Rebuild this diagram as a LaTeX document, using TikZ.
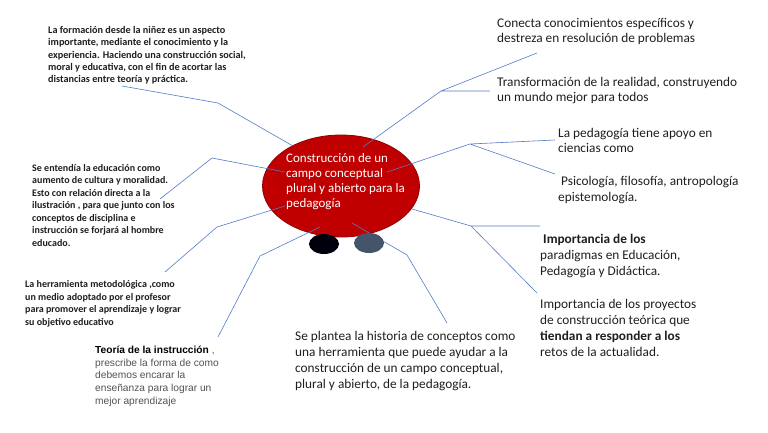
\documentclass[tikz,border=0pt]{standalone}
\usepackage{fontspec}
\setmainfont{Carlito}
\newfontfamily\arialfont{Liberation Sans}
\usetikzlibrary{shapes.geometric}
\definecolor{rojo}{RGB}{192,0,0}
\definecolor{gris}{RGB}{68,84,106}
\definecolor{linea}{RGB}{84,122,200}
\definecolor{tinta}{RGB}{30,30,30}
\tikzset{
    centro/.style = {ellipse,
                    fill=rojo,
                    draw=rojo!75!black,
                    thick,
                    minimum width=157pt,
                    minimum height=102pt},
    ojo/.style =    {ellipse,
                    draw=none,
                    minimum width=30pt,
                    minimum height=20pt},
    -,
    txt/.style =    {anchor=base west,
                    align=left,
                    inner sep=0pt,
                    text=tinta},
    chico/.style =  {txt,
                    font=\fontsize{10}{12.5}\selectfont\bfseries},
    grande/.style = {txt,
                    font=\fontsize{13.3}{15.8}\selectfont},
    -,
    conn/.style =   {draw=linea,
                    line width=0.6pt}
}

\begin{document}
\begin{tikzpicture}[x=1pt,y=-1pt]
                \useasboundingbox (0,0) rectangle (768,433);
                \node[centro]   (C)  at (341,186)  {};
                \node[txt,text=white,font=\fontsize{13}{15}\selectfont]
                                (Ct) at (286,207)  {Construcción de un\\campo conceptual\\plural y abierto para la\\pedagogía};
                % izquierda (anclas en la ultima linea)
                \node[chico,font=\fontsize{10.2}{12.4}\selectfont\bfseries]
                                (F)  at (48,83)    {La formación desde la niñez es un aspecto\\importante, mediante el conocimiento y la\\experiencia. Haciendo una construcción social,\\moral y educativa, con el fin de acortar las\\distancias entre teoría y práctica.};
                \node[chico]    (E)  at (32,246)   {Se entendía la educación como\\aumento de cultura y moralidad.\\Esto con relación directa a la\\ilustración , para que junto con los\\conceptos de disciplina e\\instrucción se forjará al hombre\\educado.};
                \node[chico]    (H)  at (25,325)   {La herramienta metodológica ,como\\un medio adoptado por el profesor\\para promover el aprendizaje y lograr\\su objetivo educativo};
                \node[txt,font=\arialfont\fontsize{10.2}{12.6}\selectfont,text=black!68]
                                (T)  at (95,404)   {\noindent\textcolor{black}{\bfseries Teoría de la instrucción} ,\\prescribe la forma de como\\debemos encarar la\\enseñanza para lograr un\\mejor aprendizaje};
                % abajo y derecha
                \node[grande]   (P)  at (295,388)  {Se plantea la historia de conceptos como\\una herramienta que puede ayudar a la\\construcción de un campo conceptual,\\plural y abierto, de la pedagogía.};
                \node[grande]   (K1) at (497,43)   {Conecta conocimientos específicos y\\destreza en resolución de problemas};
                \node[grande]   (K2) at (497,102)  {Transformación de la realidad, construyendo\\un mundo mejor para todos};
                \node[grande]   (A1) at (558,153)  {La pedagogía tiene apoyo en\\ciencias como};
                \node[grande]   (A2) at (558,201)  {\ Psicología, filosofía, antropología\\epistemología.};
                \node[grande]   (I1) at (540,275)  {\ \textbf{Importancia de los}\\paradigmas en Educación,\\Pedagogía y Didáctica.};
                \node[grande]   (I2) at (540,356)  {Importancia de los proyectos\\de construcción teórica que\\\textbf{tiendan a responder a los}\\retos de la actualidad.};
                % puntos de los conectores
                \coordinate (f0) at (122,86);  \coordinate (f1) at (218,103); \coordinate (f2) at (293,146);
                \coordinate (e0) at (160,199); \coordinate (e1) at (212,158); \coordinate (e2) at (285,172);
                \coordinate (h0) at (165,272); \coordinate (h1) at (217,227); \coordinate (h2) at (285,206);
                \coordinate (t0) at (218,337); \coordinate (t1) at (260,256); \coordinate (t2) at (320,227);
                \coordinate (p0) at (447,323); \coordinate (p1) at (407,255); \coordinate (p2) at (352,223);
                \coordinate (i0) at (412,209); \coordinate (J3) at (471,226);
                \coordinate (i1) at (540,226); \coordinate (i2) at (537,293);
                \coordinate (a0) at (387,172); \coordinate (J2) at (470,144);
                \coordinate (a1) at (555,140); \coordinate (a2) at (555,174);
                \coordinate (k0) at (363,147); \coordinate (J1) at (441,91);
                \coordinate (k1) at (537,53);  \coordinate (k2) at (490,91);
                \path [conn] (f0) -- (f1) -- (f2)
                             (e0) -- (e1) -- (e2)
                             (h0) -- (h1) -- (h2)
                             (t0) -- (t1) -- (t2)
                             (p0) -- (p1) -- (p2)
                             (i0) -- (J3) -- (i1)  (J3) -- (i2)
                             (a0) -- (J2) -- (a1)  (J2) -- (a2)
                             (k0) -- (J1) -- (k1)  (J1) -- (k2);
                \node[ojo,fill=black!95!blue] (O1) at (324,244) {};
                \node[ojo,fill=gris]          (O2) at (369,243) {};
        \end{tikzpicture}
\end{document}
